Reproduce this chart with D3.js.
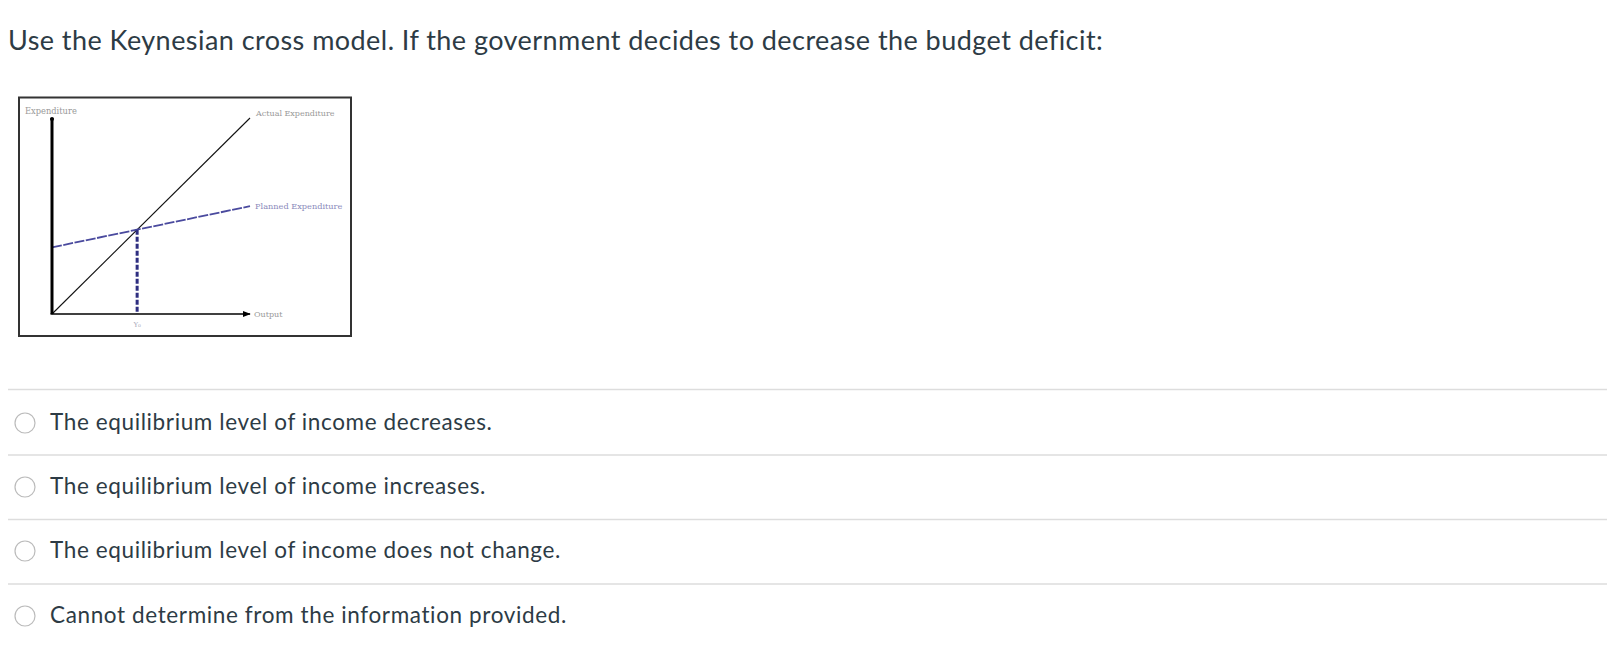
<!DOCTYPE html>
<html><head><meta charset="utf-8">
<script src="https://cdn.jsdelivr.net/npm/d3@7/dist/d3.min.js"></script>
<style>html,body{margin:0;padding:0;background:#fff;}svg{display:block;font-family:Lato,"Open Sans",sans-serif;}</style>
</head><body>
<script>
const question = "Use the Keynesian cross model. If the government decides to decrease the budget deficit:";
const options = ["The equilibrium level of income decreases.","The equilibrium level of income increases.","The equilibrium level of income does not change.","Cannot determine from the information provided."];
const outputDomain = [0, 100];
const actualValues = [0, 100];
const plannedValues = [34, 55];
const equilibriumY0 = 43;
const axisLabels = {y:"Expenditure", x:"Output", actual:"Actual Expenditure", planned:"Planned Expenditure", y0:"Y\u2080"};

const W=1607,H=647;
const svg=d3.select("body").append("svg").attr("width",W).attr("height",H);

svg.append("text").attr("x",8).attr("y",49.5).attr("font-size",27).attr("letter-spacing",0.45).attr("fill","#2d3b45").text(question);

// chart frame
svg.append("rect").attr("x",19).attr("y",97.5).attr("width",332).attr("height",238.5).attr("fill","#fff").attr("stroke","#333").attr("stroke-width",2);

const x=d3.scaleLinear().domain(outputDomain).range([52,250]);
const y=d3.scaleLinear().domain([0,100]).range([314,118]);

const defs=svg.append("defs");
defs.append("marker").attr("id","arr").attr("viewBox","0 0 10 10").attr("refX",9).attr("refY",5).attr("markerWidth",5).attr("markerHeight",5).attr("orient","auto")
 .append("path").attr("d","M0,1L10,5L0,9Z").attr("fill","#000");

// actual 45 line
svg.append("line").attr("x1",x(outputDomain[0])).attr("y1",y(actualValues[0])).attr("x2",x(outputDomain[1])).attr("y2",y(actualValues[1])).attr("stroke","#111").attr("stroke-width",1.1);
// planned
svg.append("line").attr("x1",x(outputDomain[0])).attr("y1",y(plannedValues[0])).attr("x2",x(outputDomain[1])).attr("y2",y(plannedValues[1])).attr("stroke","#4a4a9e").attr("stroke-width",1.8).attr("stroke-dasharray","10,1.5");
// vertical dashed at Y0
const eqY = plannedValues[0] + (plannedValues[1]-plannedValues[0])*(equilibriumY0-outputDomain[0])/(outputDomain[1]-outputDomain[0]);
svg.append("line").attr("x1",x(equilibriumY0)).attr("y1",y(eqY)).attr("x2",x(equilibriumY0)).attr("y2",y(0)).attr("stroke","#2e2e80").attr("stroke-width",3).attr("stroke-dasharray","5,2");

// axes
svg.append("line").attr("x1",x(0)).attr("y1",y(0)).attr("x2",x(0)).attr("y2",y(100)).attr("stroke","#000").attr("stroke-width",3);
svg.append("circle").attr("cx",x(0)).attr("cy",y(100)+1).attr("r",2).attr("fill","#000");
svg.append("line").attr("x1",x(0)-1.5).attr("y1",y(0)).attr("x2",x(100)).attr("y2",y(0)).attr("stroke","#000").attr("stroke-width",1.6).attr("marker-end","url(#arr)");

const lab=(t,xx,yy,c,fs,anchor)=>svg.append("text").attr("x",xx).attr("y",yy).attr("font-size",fs).attr("fill",c).attr("text-anchor",anchor||"start").attr("font-family","'DejaVu Serif',serif").text(t);
lab(axisLabels.y,25,113.5,"#999",8.3);
lab(axisLabels.actual,256,115.5,"#999",8);
lab(axisLabels.planned,255,208.5,"#8a8abb",8.2);
lab(axisLabels.x,254,316.5,"#999",8);
lab(axisLabels.y0,x(equilibriumY0),327,"#aab",7,"middle");

// options
const sepY=[389.5,455,519.6,584];
const rowY=[422,486,550,615];
options.forEach((o,i)=>{
  svg.append("line").attr("x1",8).attr("x2",W).attr("y1",sepY[i]).attr("y2",sepY[i]).attr("stroke","#ddd").attr("stroke-width",1.5);
  svg.append("circle").attr("cx",25).attr("cy",rowY[i]+1).attr("r",10).attr("fill","#fff").attr("stroke","#bbb").attr("stroke-width",1.2);
  svg.append("text").attr("x",50).attr("y",rowY[i]+7.5).attr("font-size",22.5).attr("letter-spacing",0.62).attr("fill","#2d3b45").text(o);
});
</script>
</body></html>
